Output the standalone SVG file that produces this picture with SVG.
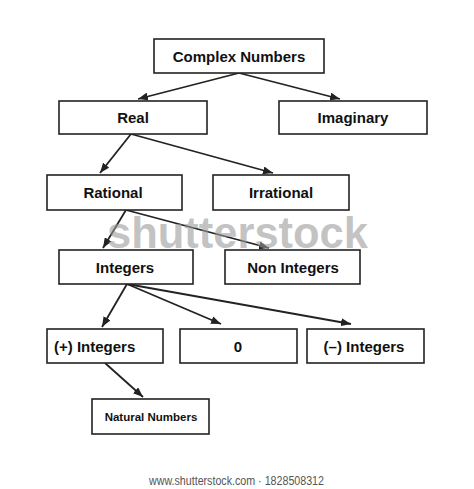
<svg xmlns="http://www.w3.org/2000/svg" width="474" height="489" viewBox="0 0 474 489">
<style>
.box{fill:#fff;stroke:#222;stroke-width:1.6}
.t{font-family:"Liberation Sans",Arial,sans-serif;font-weight:bold;font-size:15px;fill:#111;text-anchor:middle}
.edge{stroke:#222;stroke-width:1.8;fill:none;marker-end:url(#ah)}
</style>
<defs>
<marker id="ah" viewBox="0 0 10 8" refX="10" refY="4" markerWidth="10" markerHeight="8" markerUnits="userSpaceOnUse" orient="auto">
<path d="M0,0 L10,4 L0,8 z" fill="#222"/>
</marker>
</defs>
<rect width="474" height="489" fill="#fff"/>
<g id="connectors">
<line class="edge" x1="239" y1="73" x2="138" y2="99"/>
<line class="edge" x1="239" y1="73" x2="340" y2="99"/>
<line class="edge" x1="131" y1="134" x2="100" y2="173"/>
<line class="edge" x1="131" y1="134" x2="273" y2="173"/>
<line class="edge" x1="126" y1="210" x2="103" y2="248"/>
<line class="edge" x1="126" y1="210" x2="269" y2="248"/>
<line class="edge" x1="127" y1="284" x2="102" y2="327"/>
<line class="edge" x1="127" y1="284" x2="221" y2="324"/>
<line class="edge" x1="127" y1="284" x2="351" y2="324"/>
<line class="edge" x1="105" y1="363" x2="143" y2="397"/>
</g>
<g id="complex"><rect class="box" x="154" y="39" width="170" height="34"/><text class="t" x="239" y="61.5">Complex Numbers</text></g>
<g id="real"><rect class="box" x="59" y="101" width="148" height="33"/><text class="t" x="133" y="123">Real</text></g>
<g id="imaginary"><rect class="box" x="279" y="101" width="148" height="33"/><text class="t" x="353" y="123">Imaginary</text></g>
<g id="rational"><rect class="box" x="47" y="175" width="135" height="35"/><text class="t" x="113" y="197.5">Rational</text></g>
<g id="irrational"><rect class="box" x="213" y="175" width="136" height="35"/><text class="t" x="281" y="197.5">Irrational</text></g>
<g id="integers"><rect class="box" x="59" y="250" width="134" height="34"/><text class="t" x="125" y="272.5">Integers</text></g>
<g id="noninteger"><rect class="box" x="225" y="250" width="135" height="34"/><text class="t" x="293" y="272.5">Non Integers</text></g>
<g id="posint"><rect class="box" x="47" y="329" width="116" height="34"/><text class="t" x="54" y="351.5" style="text-anchor:start">(+) Integers</text></g>
<g id="zero"><rect class="box" x="180" y="329" width="117" height="34"/><text class="t" x="238" y="351.5">0</text></g>
<g id="negint"><rect class="box" x="307" y="329" width="117" height="34"/><text class="t" x="364" y="351.5">(–) Integers</text></g>
<g id="natural"><rect class="box" x="92" y="399" width="117" height="35"/><text class="t" x="151" y="420.5" style="font-size:11.5px">Natural Numbers</text></g>
<text x="107" y="248" font-family="'Liberation Sans',Arial,sans-serif" font-weight="bold" font-size="44" fill="#9a9a9a" fill-opacity="0.6" textLength="261" lengthAdjust="spacingAndGlyphs">shutterstock</text>
<text x="149" y="485" font-family="'Liberation Sans',Arial,sans-serif" font-size="12" fill="#555" textLength="175" lengthAdjust="spacingAndGlyphs">www.shutterstock.com · 1828508312</text>
</svg>
